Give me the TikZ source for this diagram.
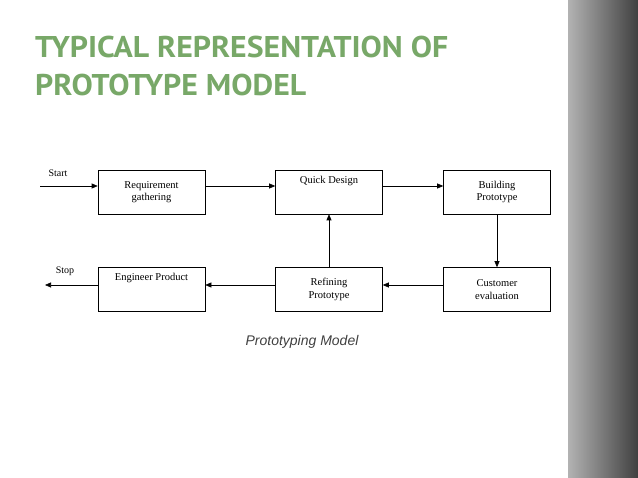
\documentclass[tikz,border=0pt]{standalone}
\usepackage{fontspec}
\setmainfont{Liberation Serif}
\newfontfamily\titlefont{PT Sans}
\newfontfamily\capfont{Liberation Sans}
\usetikzlibrary{arrows.meta}
\definecolor{tgreen}{HTML}{78A868}
\begin{document}
\begin{tikzpicture}[x=1pt,y=-1pt,
  box/.style={draw,line width=0.6pt,minimum width=107pt,minimum height=44pt,align=center,font=\fontsize{10.5}{12.5}\selectfont,inner sep=1pt},
  arr/.style={-{Triangle[length=6pt,width=5pt]},line width=0.6pt},
  lab/.style={font=\fontsize{10}{12}\selectfont}]
\useasboundingbox (0,0) rectangle (638,478);
\shade[left color=gray!60,right color=black!75] (568,0) rectangle (638,478);
\node[anchor=west,text=tgreen,font=\titlefont\bfseries\fontsize{30}{38}\selectfont,align=left,xscale=1.06,inner sep=0pt] (title) at (35,66) {TYPICAL REPRESENTATION OF\\PROTOTYPE MODEL};
\node[box] (req) at (151.5,192) {Requirement\\gathering};
\node[box] (qd) at (329,192) {Quick Design\\[12pt]};
\node[box] (bp) at (497,192) {Building\\Prototype};
\node[box] (ce) at (497,289.5) {Customer\\evaluation};
\node[box] (rp) at (329,289.5) {Refining\\Prototype};
\node[box] (ep) at (151.5,289.5) {Engineer Product\\[12pt]};
\coordinate (s) at (40,186);
\coordinate (e) at (45,285);
\node[lab] (start) at (58,173) {Start};
\node[lab] (stop) at (65,271) {Stop};
\draw[arr] (s) -- (s -| req.west);
\draw[arr] (req.east |- s) -- (qd.west |- s);
\draw[arr] (qd.east |- s) -- (bp.west |- s);
\draw[arr] (bp) -- (ce);
\draw[arr] (ce.west |- e) -- (rp.east |- e);
\draw[arr] (rp) -- (qd);
\draw[arr] (rp.west |- e) -- (ep.east |- e);
\draw[arr] (ep.west |- e) -- (e);
\node[font=\capfont\itshape\fontsize{14}{16}\selectfont,text=black!75] (cap) at (302,342) {Prototyping Model};
\end{tikzpicture}
\end{document}
